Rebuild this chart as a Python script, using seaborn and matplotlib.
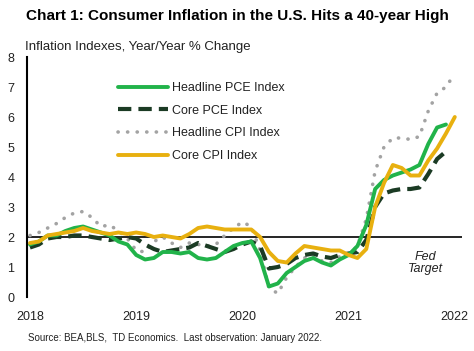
import numpy as np
import pandas as pd
import matplotlib
matplotlib.use("Agg")
import matplotlib.pyplot as plt
import seaborn as sns

# ---- data (monthly, Jan 2018 onward, Y/Y % change) ----
headline_pce = [1.75, 1.85, 2.05, 2.05, 2.2, 2.3, 2.35, 2.25, 2.15, 2.05, 1.85, 1.75,
                1.4, 1.25, 1.3, 1.5, 1.5, 1.45, 1.5, 1.3, 1.25, 1.3, 1.5, 1.7,
                1.8, 1.85, 1.3, 0.35, 0.45, 0.8, 1.0, 1.2, 1.3, 1.15, 1.05, 1.25,
                1.4, 1.7, 2.4, 3.6, 3.9, 4.05, 4.15, 4.25, 4.4, 5.1, 5.65, 5.75]
core_pce = [1.65, 1.75, 1.95, 2.0, 2.0, 2.05, 2.05, 2.0, 1.95, 1.9, 1.95, 2.0,
            1.95, 1.75, 1.6, 1.5, 1.55, 1.6, 1.65, 1.8, 1.7, 1.6, 1.5, 1.6,
            1.75, 1.85, 1.7, 0.95, 1.0, 1.1, 1.3, 1.4, 1.45, 1.35, 1.3, 1.4,
            1.45, 1.5, 1.9, 3.0, 3.45, 3.55, 3.6, 3.6, 3.65, 4.1, 4.6, 4.85]
headline_cpi = [2.05, 2.15, 2.3, 2.45, 2.65, 2.8, 2.85, 2.65, 2.35, 2.4, 2.2, 1.95,
                1.55, 1.5, 1.85, 2.0, 1.8, 1.65, 1.8, 1.75, 1.7, 1.75, 2.05, 2.3,
                2.5, 2.35, 1.55, 0.3, 0.12, 0.65, 1.0, 1.3, 1.4, 1.2, 1.15, 1.35,
                1.4, 1.7, 2.6, 4.2, 5.0, 5.3, 5.3, 5.25, 5.35, 6.2, 6.8, 7.0,
                7.45]
core_cpi = [1.8, 1.85, 2.05, 2.1, 2.15, 2.2, 2.3, 2.2, 2.15, 2.1, 2.15, 2.1,
            2.15, 2.1, 2.0, 2.05, 2.0, 1.95, 2.1, 2.3, 2.35, 2.3, 2.25, 2.25,
            2.25, 2.25, 2.0, 1.5, 1.2, 1.15, 1.45, 1.7, 1.65, 1.6, 1.55, 1.55,
            1.4, 1.3, 1.6, 3.0, 3.8, 4.4, 4.3, 4.05, 4.05, 4.55, 4.95, 5.45,
            6.0]
year_ticks = [2018, 2019, 2020, 2021, 2022]
y_ticks = [0, 1, 2, 3, 4, 5, 6, 7, 8]
fed_target = 2

start_year = 2018
def months(n):
    return [start_year + i / 12 for i in range(n)]

sns.set_theme(style="white")
plt.rcParams['font.family'] = ['Liberation Sans', 'DejaVu Sans']

fig = plt.figure(figsize=(4.74, 3.51), dpi=100)
W, H = 474, 351
ax = fig.add_axes([27 / W, (H - 297) / H, (462 - 27) / W, (297 - 57) / H])

ax.axhline(fed_target, color="black", lw=1.2, zorder=1)

sns.lineplot(x=months(len(headline_pce)), y=headline_pce, ax=ax, color="#21B34A",
             lw=2.8, label="Headline PCE Index", zorder=4)
sns.lineplot(x=months(len(core_pce)), y=core_pce, ax=ax, color="#1B3B24",
             lw=3.0, linestyle=(0, (3.2, 1.7)), label="Core PCE Index", zorder=3)
sns.lineplot(x=months(len(headline_cpi)), y=headline_cpi, ax=ax, color="#A3A3A3",
             lw=2.6, linestyle=(0, (0.05, 2.6)), dash_capstyle="round",
             label="Headline CPI Index", zorder=2)
sns.lineplot(x=months(len(core_cpi)), y=core_cpi, ax=ax, color="#E8B00F",
             lw=2.8, label="Core CPI Index", zorder=5)

ax.set_xlim(2018 - 3 / 106.2, 2018 + 432 / 106.2)
ax.set_ylim(0, 8)
ax.set_xticks(year_ticks)
ax.set_xticklabels([str(y) for y in year_ticks])
ax.set_yticks(y_ticks)
ax.set_yticklabels([str(y) for y in y_ticks])
ax.tick_params(axis="both", length=0, labelsize=9, colors="#222222")
ax.tick_params(axis="y", pad=9)
ax.tick_params(axis="x", pad=10)
ax.set_xlabel("")
ax.set_ylabel("")
for s in ["top", "right", "bottom"]:
    ax.spines[s].set_visible(False)
ax.spines["left"].set_color("black")
ax.spines["left"].set_linewidth(1.5)
ax.grid(False)

ax.text(2018 + 395 / 106.2, 1.12, "Fed\nTarget", style="italic", ha="center",
        va="center", fontsize=9, color="#222222", linespacing=1.0)

leg = ax.legend(loc="upper left", bbox_to_anchor=(118 / W, 1 - 82 / H),
                bbox_transform=fig.transFigure, frameon=False, fontsize=9,
                handlelength=4.0, handletextpad=0.35, labelspacing=0.85,
                borderpad=0, borderaxespad=0)
for t in leg.get_texts():
    t.set_color("#222222")

fig.text(0.5, 1 - 16 / H, "Chart 1: Consumer Inflation in the U.S. Hits a 40-year High",
         ha="center", va="center", fontsize=11, fontweight="bold", color="black")
fig.text(25 / W, 1 - 47 / H, "Inflation Indexes, Year/Year % Change",
         ha="left", va="center", fontsize=9.5, color="#222222")
fig.text(28 / W, 1 - 338 / H, "Source: BEA,BLS,  TD Economics.  Last observation: January 2022.",
         ha="left", va="center", fontsize=7, color="#222222")

fig.savefig("out.png", dpi=100)
